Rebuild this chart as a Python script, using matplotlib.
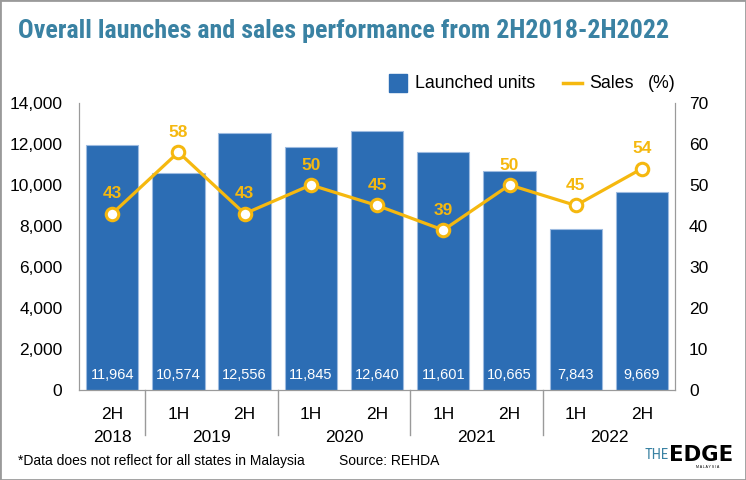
import matplotlib.pyplot as plt
import numpy as np
from matplotlib import font_manager
from matplotlib.lines import Line2D
from matplotlib.patches import Rectangle

plt.rcParams['font.family'] = ['Liberation Sans', 'DejaVu Sans']

halves = ["2H", "1H", "2H", "1H", "2H", "1H", "2H", "1H", "2H"]
years = ["2018", "2019", "2020", "2021", "2022"]
launched = [11964, 10574, 12556, 11845, 12640, 11601, 10665, 7843, 9669]
sales = [43, 58, 43, 50, 45, 39, 50, 45, 54]

BAR = "#2c6db4"
YEL = "#f5b80f"
TITLE = "#3a82a3"
GREY = "#9a9a9a"


def pick_font(names):
    for n in names:
        try:
            font_manager.findfont(n, fallback_to_default=False)
            return n
        except Exception:
            pass
    return "Liberation Sans"


narrow = pick_font(["Liberation Sans Narrow", "DejaVu Sans Condensed", "Roboto Condensed", "Liberation Sans"])

fig = plt.figure(figsize=(7.46, 4.80), dpi=100)
ax = fig.add_axes([0.106, 0.1875, 0.799, 0.598])
ax2 = ax.twinx()

x = np.arange(len(launched))
ax.bar(x, launched, width=0.79, color=BAR, edgecolor="#9dbbe0", linewidth=0.8, zorder=2)
for xi, v in zip(x, launched):
    ax.text(xi, 400, f"{v:,}", ha="center", va="bottom", color="white", fontsize=10.5, zorder=3)

ax2.plot(x, sales, color=YEL, lw=2.3, marker="o", ms=9, mfc="white", mec=YEL, mew=2.2, zorder=4)
for xi, v in zip(x, sales):
    ax2.text(xi, v + 3.0, str(v), ha="center", va="bottom", color=YEL, fontsize=12.5, fontweight="bold")

ax.set_xlim(-0.5, len(x) - 0.5)
ax.set_ylim(0, 14000)
ax2.set_ylim(0, 70)
ax.set_yticks(np.arange(0, 14001, 2000))
ax.set_yticklabels([f"{v:,}" for v in range(0, 14001, 2000)])
ax2.set_yticks(np.arange(0, 71, 10))

ax.set_xticks(x)
ax.set_xticklabels(halves)
for a in (ax, ax2):
    a.spines["top"].set_visible(False)
    for s in ("left", "right", "bottom"):
        a.spines[s].set_color(GREY)
ax.tick_params(axis="y", length=0, labelsize=12.5, pad=12)
ax2.tick_params(axis="y", length=0, labelsize=12.5, pad=10)
ax.tick_params(axis="x", direction="in", length=4, color="#cfd9e8", labelsize=12.5, pad=12)

# year labels and separators under the axis
trans = ax.get_xaxis_transform()
year_pos = [0, 1.5, 3.5, 5.5, 7.5]
for yp, yr in zip(year_pos, years):
    ax.text(yp, -0.14, yr, transform=trans, ha="center", va="top", fontsize=12.5)
for sep in [0.5, 2.5, 4.5, 6.5]:
    ax.add_line(Line2D([sep, sep], [0, -0.157], transform=trans, color=GREY, lw=1, clip_on=False))

# legend
fig.add_artist(Rectangle((389 / 746, 1 - 92 / 480), 18 / 746, 18 / 480, color=BAR, transform=fig.transFigure))
fig.text(415 / 746, 1 - 83 / 480, "Launched units", fontsize=12.8, va="center")
fig.add_artist(Line2D([563 / 746, 582 / 746], [1 - 83 / 480] * 2, color=YEL, lw=2.5, transform=fig.transFigure))
fig.text(589 / 746, 1 - 83 / 480, "Sales", fontsize=12.8, va="center")
fig.text(648 / 746, 1 - 83 / 480, "(%)", fontsize=12.8, va="center")

title = fig.text(18 / 746, 1 - 31 / 480, "Overall launches and sales performance from 2H2018-2H2022",
                 fontsize=18.5, fontweight="bold", color=TITLE, va="center", family=[narrow, "DejaVu Sans"])

fig.text(18 / 746, 1 - 461 / 480, "*Data does not reflect for all states in Malaysia", fontsize=10, va="center")
fig.text(339 / 746, 1 - 461 / 480, "Source: REHDA", fontsize=10, va="center")

# logo
edge = fig.text(733 / 746, 1 - 455 / 480, "EDGE", fontsize=13, fontweight="black", color="black",
                ha="right", va="center", family=["DejaVu Sans"])
the = fig.text(669 / 746, 1 - 455 / 480, "THE", fontsize=13, color=TITLE, ha="right", va="center",
               family=[narrow, "Liberation Sans"])
fig.text(708 / 746, 1 - 467 / 480, "M A L A Y S I A", fontsize=2.6, color="black", ha="center", va="center")

fig.add_artist(Rectangle((0, 0), 1, 1, fill=False, ec=GREY, lw=2, transform=fig.transFigure))

# fit the title and logo widths to the reference
r = fig.canvas.get_renderer()
w = title.get_window_extent(r).width
title.set_fontsize(18.5 * 654 / w)
w = edge.get_window_extent(r).width
edge.set_fontsize(13 * 64 / w)
w = the.get_window_extent(r).width
the.set_fontsize(13 * 24 / w)

fig.savefig("out.png", dpi=100)
